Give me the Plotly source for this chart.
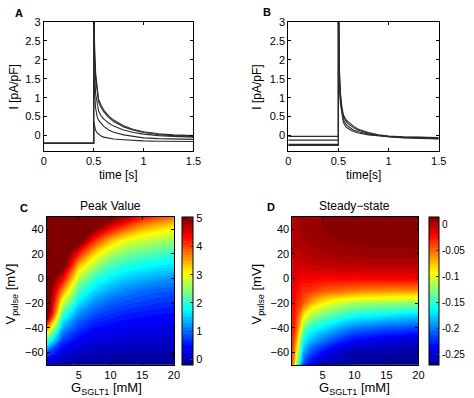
import plotly.graph_objects as go

W, H = 474, 398

# ---------------- data: panels A and B (current traces) ----------------
time_s = [0, 0.5, 0.5, 0.505, 0.51, 0.52, 0.535, 0.55, 0.575, 0.6, 0.65, 0.7,
          0.8, 0.9, 1.0, 1.15, 1.3, 1.5]

curA1 = [-0.2, -0.2, 4.0, 3.0, 2.3, 1.65, 1.2, 0.95, 0.8, 0.68, 0.52, 0.41, 0.26, 0.16, 0.1, 0.05, 0.02, 0.0]
curA2 = [-0.2, -0.2, 4.0, 2.8, 2.1, 1.5, 1.1, 0.88, 0.74, 0.63, 0.48, 0.37, 0.23, 0.14, 0.08, 0.03, 0.0, -0.02]
curA3 = [-0.2, -0.2, 4.0, 2.3, 1.6, 1.1, 0.8, 0.64, 0.52, 0.44, 0.33, 0.25, 0.15, 0.08, 0.04, 0.0, -0.02, -0.04]
curA4 = [-0.2, -0.2, 3.5, 1.7, 1.1, 0.72, 0.5, 0.4, 0.31, 0.25, 0.15, 0.09, 0.02, -0.03, -0.06, -0.08, -0.09, -0.1]
curA5 = [-0.2, -0.2, 0.38, 0.3, 0.23, 0.14, 0.07, 0.03, -0.01, -0.04, -0.07, -0.09, -0.11, -0.13, -0.14, -0.15, -0.155, -0.155]

curB1 = [-0.02, -0.02, 4.0, 2.6, 1.8, 1.15, 0.75, 0.55, 0.42, 0.36, 0.25, 0.17, 0.08, 0.02, -0.01, -0.03, -0.04, -0.05]
curB2 = [-0.12, -0.12, 4.0, 2.4, 1.65, 1.05, 0.68, 0.5, 0.38, 0.31, 0.21, 0.14, 0.06, 0.01, -0.02, -0.04, -0.05, -0.06]
curB3 = [-0.23, -0.23, 4.0, 2.2, 1.5, 0.95, 0.6, 0.42, 0.3, 0.24, 0.15, 0.1, 0.04, 0.0, -0.03, -0.05, -0.06, -0.08]
curB4 = [-0.26, -0.26, 4.0, 2.0, 1.35, 0.85, 0.52, 0.35, 0.23, 0.18, 0.11, 0.07, 0.02, -0.01, -0.03, -0.06, -0.08, -0.09]

# ---------------- data: panel C (peak value) ----------------
gC = [0, 2.5, 5, 7.5, 10, 12.5, 15, 17.5, 20]
vC = [-70, -60, -50, -40, -30, -20, -10, 0, 10, 20, 30, 40, 50]
peakC = [
    [0.1, -0.05, -0.15, -0.18, -0.18, -0.2, -0.2, -0.2, -0.2],
    [0.9, 0.3, 0.12, 0.05, 0.02, 0.0, 0.0, 0.0, 0.0],
    [2.2, 0.75, 0.41, 0.27, 0.22, 0.19, 0.17, 0.16, 0.15],
    [3.7, 1.33, 0.75, 0.5, 0.42, 0.37, 0.34, 0.31, 0.29],
    [5.3, 2.0, 1.14, 0.81, 0.67, 0.57, 0.52, 0.48, 0.46],
    [5.5, 2.83, 1.62, 1.17, 0.94, 0.83, 0.76, 0.7, 0.65],
    [5.5, 3.6, 2.12, 1.58, 1.31, 1.12, 1.0, 0.93, 0.9],
    [5.5, 4.4, 2.7, 2.0, 1.69, 1.5, 1.38, 1.28, 1.2],
    [5.5, 5.2, 3.38, 2.59, 2.11, 1.88, 1.77, 1.68, 1.6],
    [5.5, 5.5, 4.23, 3.25, 2.67, 2.37, 2.21, 2.1, 2.0],
    [5.5, 5.5, 5.2, 4.07, 3.36, 2.9, 2.74, 2.6, 2.5],
    [5.5, 5.5, 5.5, 5.0, 4.3, 3.8, 3.4, 3.2, 3.0],
    [5.5, 5.5, 5.5, 5.5, 5.2, 4.8, 4.3, 4.0, 3.8],
]
peak_ticks = [0, 1, 2, 3, 4, 5]

# ---------------- data: panel D (steady state) ----------------
gD = [0.3, 1, 2, 3, 5, 7.5, 10, 12.5, 15, 17.5, 20]
vD = [-70, -60, -50, -40, -30, -20, -10, 0, 10, 20, 30, 40, 50]
steadyD = [
    [-0.035, -0.13, -0.215, -0.235, -0.257, -0.262, -0.266, -0.267, -0.268, -0.268, -0.268],
    [-0.03, -0.095, -0.185, -0.21, -0.233, -0.25, -0.26, -0.262, -0.263, -0.264, -0.265],
    [-0.025, -0.07, -0.158, -0.18, -0.2, -0.22, -0.233, -0.238, -0.243, -0.247, -0.25],
    [-0.02, -0.047, -0.12, -0.15, -0.167, -0.185, -0.2, -0.205, -0.21, -0.212, -0.215],
    [-0.018, -0.038, -0.082, -0.11, -0.13, -0.146, -0.158, -0.163, -0.168, -0.172, -0.175],
    [-0.015, -0.03, -0.045, -0.065, -0.09, -0.105, -0.115, -0.118, -0.12, -0.122, -0.125],
    [-0.012, -0.022, -0.033, -0.035, -0.045, -0.05, -0.055, -0.058, -0.06, -0.061, -0.062],
    [-0.01, -0.015, -0.02, -0.018, -0.02, -0.02, -0.02, -0.02, -0.019, -0.018, -0.018],
    [-0.005, -0.008, -0.008, -0.006, -0.004, -0.003, -0.002, -0.001, -0.001, -0.001, -0.001],
    [0.0, -0.002, 0.0, 0.002, 0.004, 0.006, 0.007, 0.008, 0.008, 0.008, 0.008],
    [0.004, 0.002, 0.004, 0.006, 0.008, 0.01, 0.011, 0.012, 0.012, 0.012, 0.012],
    [0.005, 0.004, 0.006, 0.008, 0.01, 0.012, 0.013, 0.014, 0.014, 0.014, 0.014],
    [0.005, 0.005, 0.007, 0.008, 0.01, 0.012, 0.013, 0.014, 0.014, 0.014, 0.013],
]
steady_ticks = [0, -0.05, -0.1, -0.15, -0.2, -0.25]
steady_ticktext = ["0", "-0.05", "-0.1", "-0.15", "-0.2", "-0.25"]

# MATLAB-like jet colormap
jet = [
    [0.0, "rgb(0,0,143)"],
    [0.125, "rgb(0,0,255)"],
    [0.375, "rgb(0,255,255)"],
    [0.625, "rgb(255,255,0)"],
    [0.875, "rgb(255,0,0)"],
    [1.0, "rgb(128,0,0)"],
]

FONT = "Liberation Sans, Arial, Helvetica, sans-serif"


def px_x(p):
    return p / W


def px_y(p):
    return 1 - p / H


fig = go.Figure()

line_style = dict(color="#2a2a2a", width=1.1)
for cur in [curA1, curA2, curA3, curA4, curA5]:
    fig.add_trace(go.Scatter(x=time_s, y=cur, mode="lines", line=line_style,
                             xaxis="x", yaxis="y", hoverinfo="skip"))
for cur in [curB1, curB2, curB3, curB4]:
    fig.add_trace(go.Scatter(x=time_s, y=cur, mode="lines", line=line_style,
                             xaxis="x2", yaxis="y2", hoverinfo="skip"))

fig.add_trace(go.Contour(
    x=gC, y=vC, z=peakC, colorscale=jet, zauto=False, zmin=-0.2, zmax=5.05,
    contours=dict(start=-0.2, end=5.05, size=0.1, coloring="fill"),
    line=dict(width=0),
    xaxis="x3", yaxis="y3",
    colorbar=dict(x=px_x(183), xanchor="left", xpad=0, ypad=0,
                  y=px_y(289.3), yanchor="middle", len=150 / H, lenmode="fraction",
                  thickness=11, outlinewidth=1, outlinecolor="black",
                  tickvals=peak_ticks, ticks="inside", ticklen=3,
                  tickfont=dict(size=11, color="black", family=FONT)),
))

fig.add_trace(go.Contour(
    x=gD, y=vD, z=steadyD, colorscale=jet, zauto=False, zmin=-0.27, zmax=0.015,
    contours=dict(start=-0.27, end=0.015, size=0.005, coloring="fill"),
    line=dict(width=0),
    xaxis="x4", yaxis="y4",
    colorbar=dict(x=px_x(436), xanchor="left", xpad=0, ypad=0,
                  y=px_y(289.3), yanchor="middle", len=150 / H, lenmode="fraction",
                  thickness=10, outlinewidth=1, outlinecolor="black",
                  tickvals=steady_ticks, ticktext=steady_ticktext,
                  ticks="inside", ticklen=3,
                  tickfont=dict(size=10, color="black", family=FONT)),
))

ax_common = dict(showline=True, linecolor="black", linewidth=1, mirror="ticks",
                 ticks="inside", ticklen=3, tickcolor="black", showgrid=False,
                 zeroline=False, tickfont=dict(size=11, color="black", family=FONT))

layout = dict(
    width=W, height=H, margin=dict(l=0, r=0, t=0, b=0),
    paper_bgcolor="white", plot_bgcolor="white", showlegend=False,
    font=dict(family=FONT, color="black"),
    xaxis=dict(domain=[px_x(41.7), px_x(195)], range=[0, 1.5],
               tickvals=[0, 0.5, 1, 1.5], anchor="y", **ax_common),
    yaxis=dict(domain=[px_y(147), px_y(16)], range=[-0.4, 3],
               tickvals=[0, 0.5, 1, 1.5, 2, 2.5, 3], anchor="x", **ax_common),
    xaxis2=dict(domain=[px_x(292), px_x(446)], range=[0, 1.5],
                tickvals=[0, 0.5, 1, 1.5], anchor="y2", **ax_common),
    yaxis2=dict(domain=[px_y(147), px_y(16)], range=[-0.4, 3],
                tickvals=[0, 0.5, 1, 1.5, 2, 2.5, 3], anchor="x2", **ax_common),
    xaxis3=dict(domain=[px_x(45), px_x(175)], range=[0, 20],
                tickvals=[5, 10, 15, 20], anchor="y3", **ax_common),
    yaxis3=dict(domain=[px_y(364.3), px_y(214.3)], range=[-70, 50],
                tickvals=[-60, -40, -20, 0, 20, 40], anchor="x3", **ax_common),
    xaxis4=dict(domain=[px_x(296.3), px_x(425.3)], range=[0.3, 20],
                tickvals=[5, 10, 15, 20], anchor="y4", **ax_common),
    yaxis4=dict(domain=[px_y(364.3), px_y(214.3)], range=[-70, 50],
                tickvals=[-60, -40, -20, 0, 20, 40], anchor="x4", **ax_common),
)
fig.update_layout(**layout)


def ann(text, x, y, size=12, bold=False, angle=0):
    fig.add_annotation(text=f"<b>{text}</b>" if bold else text,
                       x=px_x(x), y=px_y(y), xref="paper", yref="paper",
                       showarrow=False, textangle=angle, xanchor="center", yanchor="middle",
                       font=dict(size=size, color="black", family=FONT))


ann("A", 16, 7, 11, True)
ann("B", 270, 6, 11, True)
ann("C", 21, 205, 11, True)
ann("D", 274, 204, 11, True)

ann("I [pA/pF]", 11, 82, 12, angle=-90)
ann("I [pA/pF]", 260, 82, 12, angle=-90)
ann("time [s]", 118, 172, 12)
ann("time[s]", 369, 172, 12)

ann("Peak Value", 110, 203, 12)
ann("Steady\u2212state", 360, 203, 12)

ann("V<sub>pulse</sub> [mV]", 9, 292, 13, angle=-90)
ann("V<sub>pulse</sub> [mV]", 261, 292, 13, angle=-90)
ann("G<sub>SGLT1</sub> [mM]", 106, 388, 13)
ann("G<sub>SGLT1</sub> [mM]", 360, 388, 13)

fig.write_html(
    "out.html",
    config={"displayModeBar": False},
    post_script="document.body.style.margin='0';document.body.style.overflow='hidden';",
)
